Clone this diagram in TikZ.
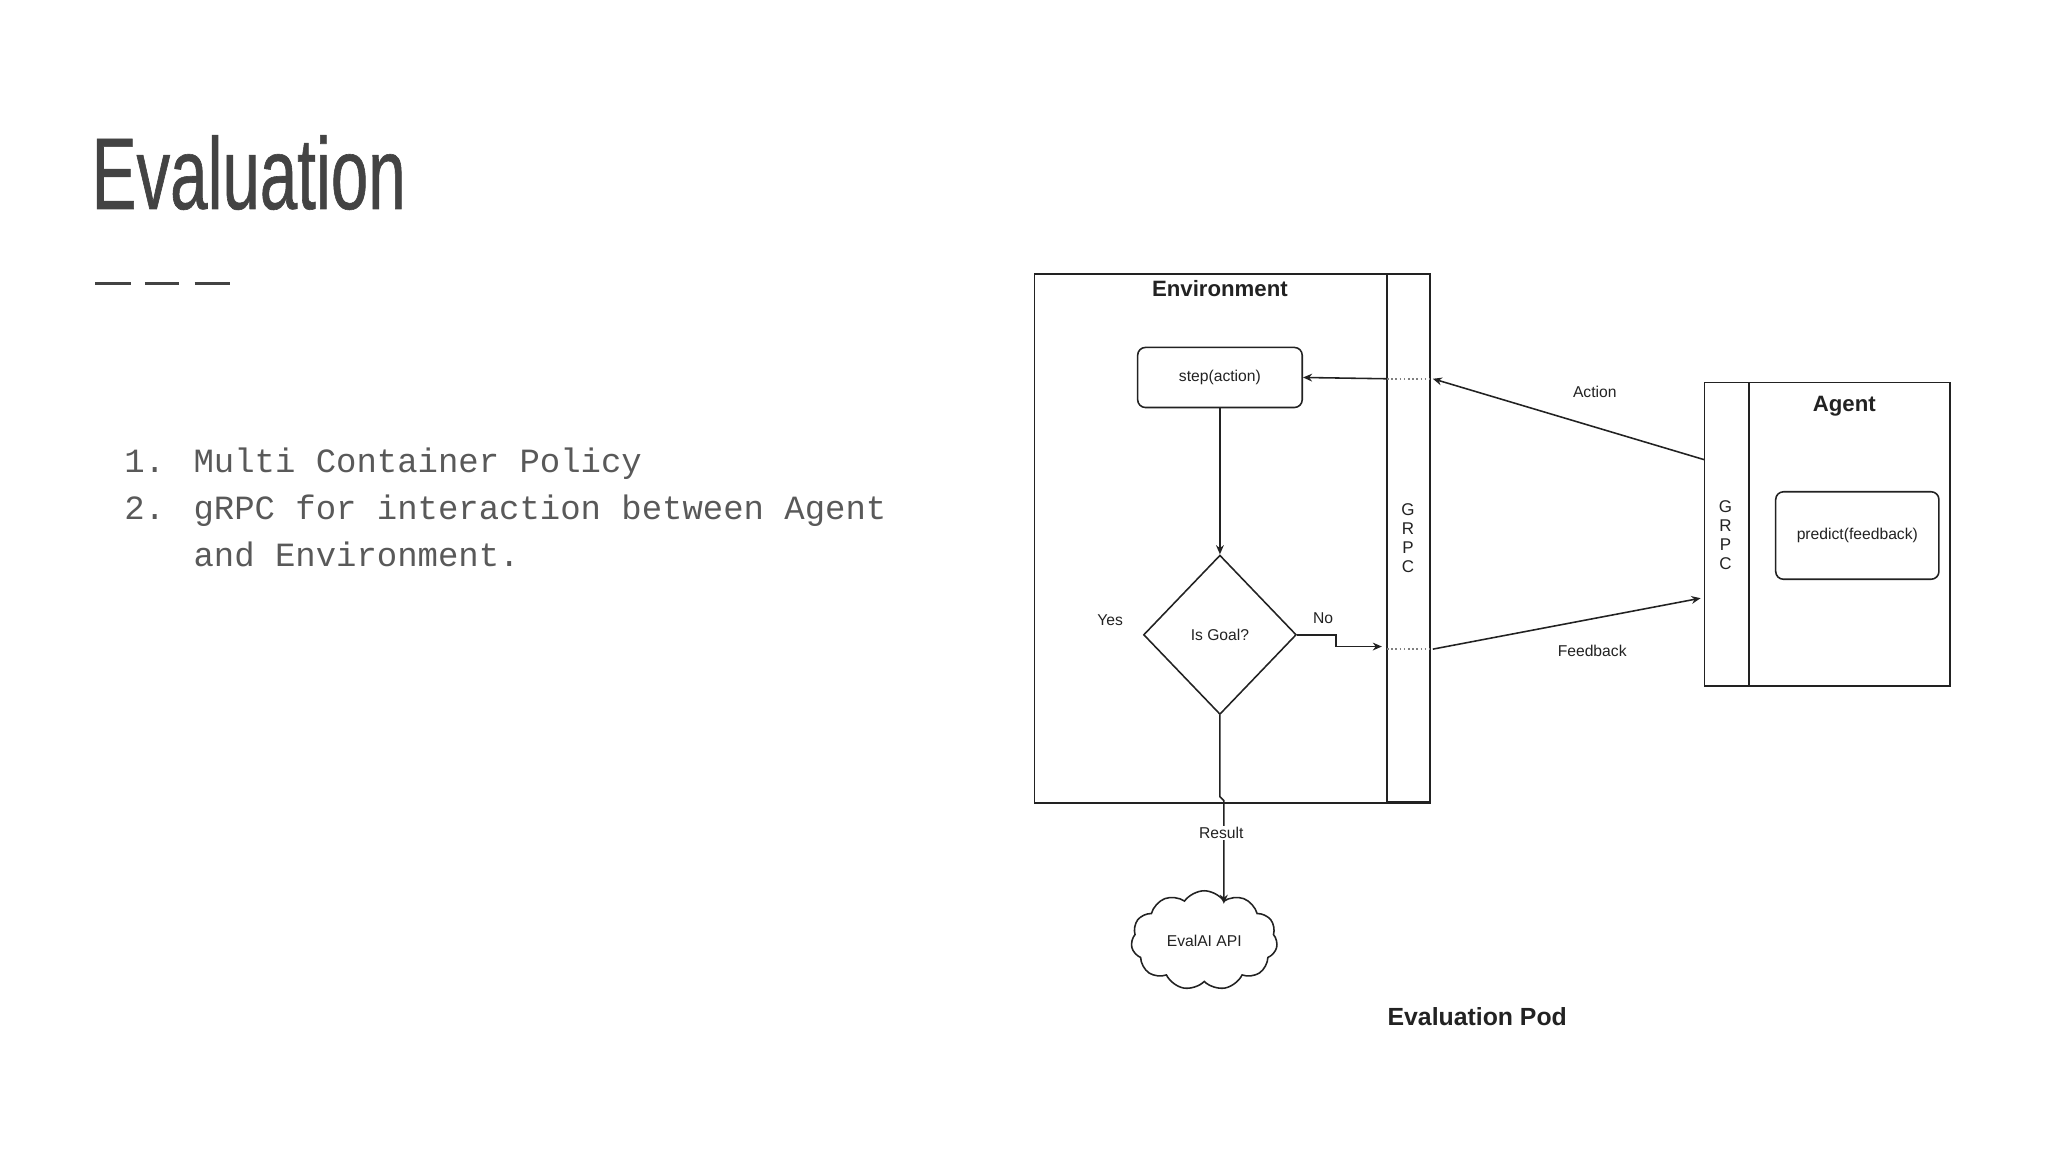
\documentclass[tikz,border=0pt]{standalone}
\usepackage{fontspec}
\setmainfont{Liberation Sans}
\newfontfamily\titlef[FakeStretch=0.66,FakeBold=0.6]{Liberation Sans}
\newfontfamily\monof{Liberation Mono}
\usetikzlibrary{shapes.geometric,shapes.symbols,arrows.meta}
\definecolor{tgray}{HTML}{434343}
\definecolor{lgray}{HTML}{595959}
\definecolor{dk}{HTML}{222222}
\begin{document}
\begin{tikzpicture}[x=1pt,y=-1pt,
  ln/.style={draw=dk,line width=1.2pt},
  arr/.style={ln,-{Stealth[length=7pt,width=6pt]}},
  dot/.style={draw=gray,line width=1.2pt,dotted},
  lbl/.style={font=\fontsize{12}{14}\selectfont,text=dk,inner sep=0},
  itm/.style={anchor=base west,inner sep=0,text=lgray,font=\monof\fontsize{26}{36}\selectfont},
  box/.style={ln,rounded corners=6pt,minimum width=126pt,font=\fontsize{12}{14}\selectfont,text=dk}]
\useasboundingbox (0,0) rectangle (1568,882);
\node[anchor=base west,inner sep=0,text=tgray,font=\titlef\fontsize{78}{90}\selectfont] (title) at (70,160) {Evaluation};
\foreach \a/\b [count=\i] in {73/100,111/137,149/176}
  \draw[tgray,line width=2.5pt] (\a,217) coordinate (d\i a) -- (\b,217) coordinate (d\i b);
\node[itm] (n1) at (95,362) {1.};
\node[itm] (t1) at (148,362) {Multi Container Policy};
\node[itm] (n2) at (95,398) {2.};
\node[itm] (t2) at (148,398) {gRPC for interaction between Agent};
\node[itm] (t3) at (148,434) {and Environment.};
% Environment
\draw[ln] (792,210) rectangle (1095,615);
\draw[ln] (1062,210) -- (1062,615);
\draw[ln,line width=2.2pt] (1062,614) -- (1095,614);
\node[font=\bfseries\fontsize{17}{20}\selectfont,text=dk] (env) at (934,221) {Environment};
\node[lbl,align=center,font=\fontsize{13}{14.5}\selectfont] (g1) at (1078,412) {G\\R\\P\\C};
\node[box,minimum height=46pt] (step) at (934,289) {step(action)};
\node[ln,diamond,minimum width=117pt,minimum height=122pt,inner sep=0,aspect=0.95,font=\fontsize{12}{14}\selectfont,text=dk] (goal) at (934,486) {Is Goal?};
\draw[arr] (step.south) -- (goal.north);
% Agent
\draw[ln] (1305,293) rectangle (1493,525);
\draw[ln] (1339,293) -- (1339,525);
\node[font=\bfseries\fontsize{17}{20}\selectfont,text=dk] (agent) at (1412,311) {Agent};
\node[lbl,align=center,font=\fontsize{13}{14.5}\selectfont] (g2) at (1321,410) {G\\R\\P\\C};
\node[box,minimum width=125pt,minimum height=67pt] (pred) at (1422,410) {predict(feedback)};
% action path
\coordinate (a1) at (1062,290); \coordinate (a2) at (1097,290); \coordinate (ag1) at (1305,352);
\draw[dot] (a1) -- (a2);
\draw[arr] (a1) -- (step.east);
\draw[arr] (ag1) -- (a2);
% feedback path
\coordinate (f1) at (1058,495); \coordinate (f2) at (1097,497); \coordinate (ag2) at (1302,458);
\draw[arr] (goal.east) -- (1023,486) -- (1023,495) -- (f1);
\draw[dot] (1062,497) -- (1095,497);
\draw[arr] (f2) -- (ag2);
% labels
\node[lbl] (lA) at (1221,300) {Action};
\node[lbl] (lF) at (1219,498) {Feedback};
\node[lbl] (lY) at (850,475) {Yes};
\node[lbl] (lN) at (1013,473) {No};
% result
\node[ln,cloud,cloud puffs=11,cloud puff arc=110,aspect=1.6,minimum width=112pt,minimum height=76pt,inner sep=0,font=\fontsize{12}{14}\selectfont,text=dk] (api) at (922,720) {EvalAI API};
\draw[arr] (goal.south) -- (934,610) -- (937,613) -- (937,692);
\node[lbl,fill=white,inner sep=1pt] (lR) at (935,638) {Result};
\node[font=\bfseries\fontsize{19}{22}\selectfont,text=dk] (pod) at (1131,778) {Evaluation Pod};
\end{tikzpicture}
\end{document}
